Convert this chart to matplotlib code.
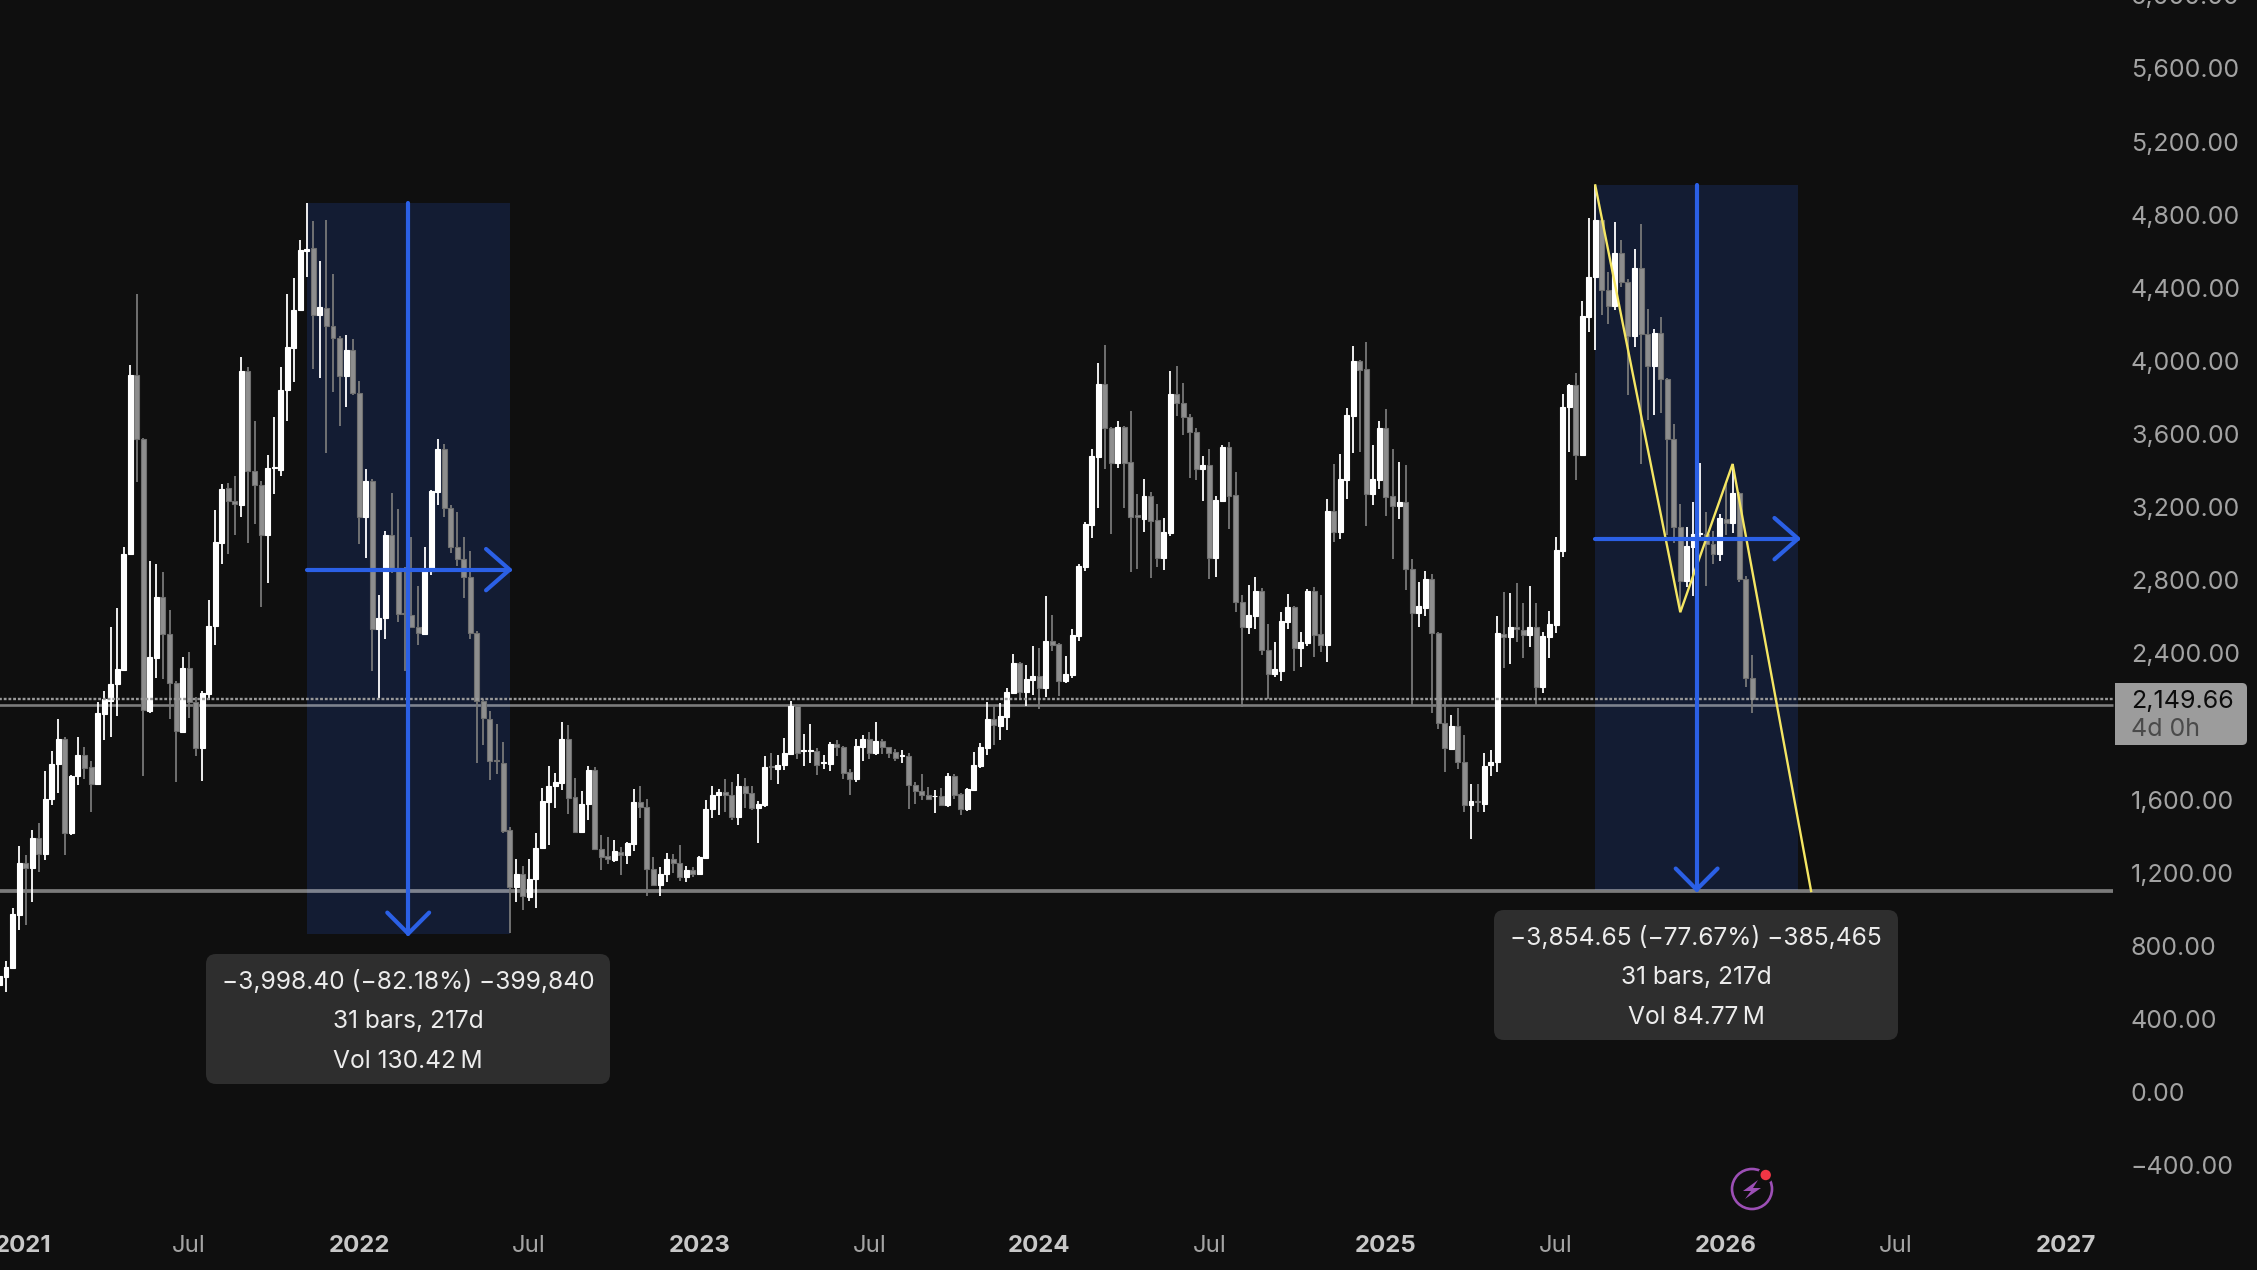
import numpy as np
import pandas as pd
import matplotlib
matplotlib.use("Agg")
import matplotlib.pyplot as plt
from matplotlib.patches import Rectangle, FancyBboxPatch, Circle, Polygon

plt.rcParams["font.family"] = ["Inter", "DejaVu Sans"]

# weekly bars
opens = [586,629,679,968,1253,1226,1390,1302,1606,1796,
    1934,1415,1729,1846,1776,1685,2069,2142,2230,2309,
    2945,3920,3575,2083,2376,2710,2505,2236,1972,2318,
    2133,1884,2177,2549,3003,3305,3232,3214,3944,3399,
    3320,3050,3414,3405,3841,4070,4278,4600,4615,4252,
    4287,4190,4123,3915,4058,3824,3144,3343,2535,2596,
    3047,2866,2622,2611,2543,2505,2851,3284,3519,3197,
    2980,2916,2816,2514,2142,2039,1816,1798,1434,1124,
    1193,1069,1164,1333,1589,1674,1693,1932,1612,1421,
    1574,1762,1328,1292,1270,1315,1297,1357,1587,1561,
    1219,1133,1191,1273,1255,1178,1215,1193,1282,1547,
    1625,1642,1625,1507,1674,1634,1556,1570,1784,1767,
    1789,1850,2112,1864,1864,1866,1800,1797,1904,1890,
    1749,1713,1888,1932,1855,1921,1886,1862,1839,1837,
    1678,1649,1625,1618,1618,1570,1729,1631,1549,1653,
    1784,1882,2039,2003,2054,2185,2346,2191,2255,2276,
    2211,2468,2452,2249,2282,2495,2873,3103,3475,3874,
    3635,3442,3639,3445,3155,3135,3261,3130,2924,3059,
    3819,3770,3695,3613,3409,3431,2924,3234,3529,3267,
    2681,2545,2605,2741,2419,2287,2306,2572,2654,2430,
    2457,2741,2506,2446,3179,3064,3349,3699,4000,3956,
    3272,3349,3633,3261,3206,3228,2864,2620,2650,2808,
    2512,2017,1879,2000,1804,1572,1595,1577,1791,1804,
    2507,2489,2545,2527,2502,2545,2218,2489,2557,2959,
    3750,3868,3487,4240,4461,4773,4386,4298,4592,4434,
    4135,4509,4145,3971,4152,3901,3574,3090,2796,2984,
    3052,3052,2997,2941,3135,3115,3278,2808,2263]
highs = [645,717,1007,1346,1297,1433,1472,1758,1867,2039,
    1945,1735,1943,1890,1811,2133,2192,2543,2646,2983,
    3979,4366,3580,2904,2889,2845,2637,2250,2382,2406,
    2162,2192,2690,3185,3328,3332,3370,4023,3964,3672,
    3343,3484,3692,3964,4366,4454,4662,4865,4764,4545,
    4770,4477,4134,4140,4120,3891,3408,3355,2719,3068,
    3276,3188,2874,3036,2769,2980,3296,3572,3548,3209,
    3173,3036,2960,2520,2148,2083,2016,1913,1448,1273,
    1237,1273,1416,1662,1784,1746,2025,2006,1718,1647,
    1784,1778,1406,1395,1379,1341,1370,1656,1674,1602,
    1288,1233,1306,1302,1352,1237,1233,1293,1598,1674,
    1658,1713,1696,1740,1720,1674,1592,1839,1855,1844,
    1937,2140,2118,1959,2014,1880,1844,1917,1926,1895,
    1767,1932,1953,1970,2025,1930,1890,1877,1871,1853,
    1696,1740,1669,1653,1663,1746,1740,1635,1663,1860,
    1910,2134,2112,2129,2209,2395,2351,2337,2441,2430,
    2714,2610,2455,2386,2534,2889,3119,3518,3989,4087,
    3640,3671,3642,3726,3272,3354,3283,3217,3141,3945,
    3972,3879,3710,3633,3480,3518,3261,3540,3557,3392,
    2720,2774,2818,2758,2561,2463,2627,2725,2660,2517,
    2752,2763,2720,3245,3436,3491,3743,4082,4005,4104,
    3540,3671,3737,3518,3447,3429,2914,2791,2851,2833,
    2515,2143,2062,2100,1954,1686,1686,1854,1871,2607,
    2733,2728,2783,2675,2771,2675,2519,2632,3034,3818,
    3876,3931,4328,4780,4960,4778,4486,4760,4660,4449,
    4612,4748,4283,4172,4240,3906,3655,3218,3090,3230,
    3441,3173,3072,3160,3328,3436,3280,2821,2389]
lows = [575,547,679,886,914,1040,1204,1269,1568,1635,
    1298,1409,1679,1714,1533,1680,1928,1943,2060,2303,
    2939,3340,1729,2074,2265,2259,2039,1699,1963,2045,
    1840,1702,2147,2447,2889,2945,3047,3144,3003,3106,
    2652,2784,3270,3370,3672,3885,4272,4457,3953,3906,
    3496,3827,3642,3748,3815,2998,2924,2303,2157,2476,
    2842,2573,2303,2540,2447,2500,2828,3209,3144,2948,
    2880,2705,2479,1802,1899,1708,1738,1420,868,1042,
    996,1045,1005,1330,1352,1556,1653,1521,1418,1418,
    1490,1326,1215,1248,1260,1188,1248,1321,1499,1075,
    1127,1075,1151,1200,1157,1149,1178,1191,1280,1499,
    1516,1532,1488,1461,1556,1543,1364,1561,1707,1685,
    1762,1844,1822,1786,1802,1736,1767,1757,1839,1715,
    1625,1696,1811,1822,1844,1850,1829,1811,1800,1549,
    1576,1598,1601,1527,1565,1560,1603,1516,1538,1650,
    1773,1844,1899,1926,1981,2180,2149,2114,2172,2096,
    2162,2413,2167,2236,2267,2468,2851,3031,3196,3409,
    3053,3414,3196,2845,2862,3064,2813,2873,2856,3042,
    3699,3595,3360,3349,3234,2807,2818,3228,3081,2627,
    2109,2506,2534,2391,2149,2271,2249,2534,2304,2326,
    2441,2380,2408,2353,3010,3026,3245,3496,3502,3097,
    3212,3299,3152,2917,3135,2745,2117,2545,2602,2072,
    1987,1753,1874,1766,1535,1384,1535,1535,1728,1753,
    2318,2344,2462,2376,2437,2110,2185,2374,2512,2929,
    3499,3348,3482,4160,4057,4253,4202,4278,4403,3813,
    4077,3436,3675,3705,3713,3047,3004,2625,2763,2715,
    3022,2771,2889,2904,3047,3060,2788,2218,2072]
closes = [635,684,974,1253,1226,1390,1302,1606,1796,1934,
    1415,1729,1846,1773,1685,2075,2148,2230,2315,2945,
    3920,3575,2089,2382,2710,2505,2236,1978,2318,2133,
    1884,2183,2549,3009,3299,3232,3217,3944,3399,3320,
    3050,3414,3420,3841,4076,4278,4609,4612,4252,4293,
    4190,4123,3915,4058,3824,3144,3343,2535,2596,3047,
    2866,2617,2617,2543,2514,2857,3290,3519,3197,2980,
    2916,2816,2514,2142,2045,1811,1811,1428,1124,1193,
    1073,1164,1333,1592,1674,1696,1932,1611,1421,1576,
    1762,1328,1288,1273,1319,1297,1361,1587,1561,1219,
    1133,1193,1273,1255,1178,1215,1193,1288,1547,1625,
    1642,1625,1507,1674,1634,1552,1576,1777,1777,1789,
    1855,2112,1857,1870,1870,1791,1804,1904,1886,1747,
    1713,1893,1932,1855,1921,1886,1855,1826,1842,1678,
    1649,1625,1605,1622,1570,1729,1625,1549,1658,1789,
    1888,2041,2006,2057,2187,2346,2191,2260,2276,2211,
    2468,2446,2249,2287,2501,2878,3108,3480,3874,3635,
    3442,3639,3442,3148,3148,3261,3126,2924,3064,3819,
    3770,3695,3613,3409,3431,2924,3239,3529,3261,2681,
    2545,2610,2741,2419,2287,2315,2577,2654,2430,2462,
    2741,2501,2446,3179,3064,3354,3704,4000,3950,3272,
    3354,3633,3256,3206,3228,2864,2620,2658,2808,2512,
    2017,1884,2000,1804,1572,1590,1585,1786,1804,2512,
    2489,2545,2532,2502,2545,2218,2494,2562,2964,3750,
    3868,3487,4245,4461,4773,4386,4298,4592,4434,4135,
    4509,4145,3971,4152,3901,3574,3090,2796,2989,3052,
    3060,2997,2941,3142,3115,3278,2808,2263,2150]

first_bar = pd.Timestamp("2020-12-14")

price_ticks = [6000,5600,5200,4800,4400,4000,3600,3200,2800,2400,1600,1200,800,400,0,-400]
time_ticks = ["2021-01-08","2021-07-05","2022-01-03","2022-07-04","2023-01-02","2023-07-03",
    "2024-01-01","2024-07-01","2025-01-06","2025-07-07","2026-01-05","2026-07-06","2027-01-04"]
time_labels = ["2021","Jul","2022","Jul","2023","Jul","2024","Jul","2025","Jul","2026","Jul","2027"]

# measure tools: first bar, last bar, top price, bottom price
measure_a = (47, 78, 4865, 867)
measure_b = (244, 275, 4963, 1108)
measure_a_text = ["\u22123,998.40 (\u221282.18%) \u2212399,840", "31 bars, 217d", "Vol 130.42\u2009M"]
measure_b_text = ["\u22123,854.65 (\u221277.67%) \u2212385,465", "31 bars, 217d", "Vol 84.77\u2009M"]

zigzag_x = [244, 257, 265, 277]
zigzag_y = [4960, 2625, 3436, 1100]

last_price = 2149.66
level_mid = 2120
level_low = 1100

BG = "#0f0f0f"
BLUE = "#2b60e6"

fig = plt.figure(figsize=(22.57, 12.70), dpi=100, facecolor=BG)
ax = fig.add_axes([0, 0, 1, 1], facecolor=BG)
ax.set_xlim(0.083, 345.18)
ax.set_ylim(-973, 5974)
ax.axis("off")

# overlay in image pixels for the labels boxes and the icon
ov = fig.add_axes([0, 0, 1, 1], facecolor="none")
ov.set_xlim(0, 2257)
ov.set_ylim(1270, 0)
ov.axis("off")

o = np.array(opens)
h = np.array(highs)
l = np.array(lows)
c = np.array(closes)
x = np.arange(len(o))
up = c >= o

for first, last, top, bot in [measure_a, measure_b]:
    ax.add_patch(Rectangle((first, bot), last - first, top - bot, color="#131c33", lw=0, zorder=1))

# levels
ax.hlines(level_mid, 0, 323.2, color="white", alpha=0.45, lw=1.9, zorder=2)
ax.hlines(level_low, 0, 323.2, color="white", alpha=0.45, lw=2.7, zorder=2)

ax.vlines(x[up], l[up], h[up], color="white", lw=1.3, zorder=3)
ax.vlines(x[~up], l[~up], h[~up], color="#787878", lw=1.3, zorder=3)
ax.bar(x[~up], (o - c)[~up], bottom=c[~up], width=0.76, color="#8e8e8e", edgecolor="#707070", lw=0.8, zorder=4)
ax.bar(x[up], (c - o)[up], bottom=o[up], width=0.76, color="white", edgecolor="white", lw=0.8, zorder=4)

ax.hlines(last_price, 0, 323.2, color="#9a9a9a", lw=1.7, linestyles=(0, (1.2, 0.8)), zorder=5)

ax.plot(zigzag_x, zigzag_y, color="#f5e663", lw=1.7, zorder=6, solid_joinstyle="miter")

# arrows of the measure tools
for first, last, top, bot in [measure_a, measure_b]:
    mid_x = (first + last) / 2
    mid_y = (top + bot) / 2 - 8
    ax.plot([mid_x, mid_x], [top, bot], color=BLUE, lw=3, solid_capstyle="round", zorder=7)
    ax.plot([mid_x - 3.2, mid_x, mid_x + 3.2], [bot + 115, bot, bot + 115], color=BLUE, lw=3,
            solid_capstyle="round", zorder=7)
    ax.plot([first, last], [mid_y, mid_y], color=BLUE, lw=3, solid_capstyle="round", zorder=7)
    ax.plot([last - 3.6, last, last - 3.6], [mid_y + 113, mid_y, mid_y - 113], color=BLUE, lw=3,
            solid_capstyle="round", zorder=7)

# price scale
for p in price_ticks:
    ax.text(325.9, p - 14, f"{p:,.2f}".replace("-", "\u2212"), color="#a3a3a3", fontsize=18,
            va="center", ha="left", zorder=8)

# time scale
for d, lab in zip(time_ticks, time_labels):
    pos = (pd.Timestamp(d) - first_bar).days / 7
    if lab == "Jul":
        ax.text(pos, -841, lab, color="#a3a3a3", fontsize=17.3, ha="center", va="center")
    else:
        ax.text(pos, -841, lab, color="#c8c8c8", fontsize=17.3, fontweight="bold", ha="center", va="center")

# last price tag
ov.add_patch(FancyBboxPatch((2115, 683), 132, 62, boxstyle="round,pad=0,rounding_size=5",
                            fc="#9c9c9c", ec="none", zorder=9))
ov.add_patch(Rectangle((2115, 683), 30, 62, fc="#9c9c9c", ec="none", zorder=9))
ov.text(2131, 701.5, f"{last_price:,.2f}", color="#0c0c0c", fontsize=18, va="center", ha="left", zorder=10)
ov.text(2131, 729, "4d 0h", color="#4a4a4a", fontsize=18, va="center", ha="left", zorder=10)

# measure tooltips
for (bx, by), lines in [((206, 954), measure_a_text), ((1494, 910), measure_b_text)]:
    ov.add_patch(FancyBboxPatch((bx, by), 404, 130, boxstyle="round,pad=0,rounding_size=10",
                                fc="#2e2e2e", ec="none", zorder=9))
    for k, line in enumerate(lines):
        ov.text(bx + 202, by + 28 + 40 * k, line, color="#ececec", fontsize=17.7,
                ha="center", va="center", zorder=10)

# lightning icon
PURPLE = "#9c4fb5"
ov.add_patch(Circle((1752, 1189), 20, fc="none", ec=PURPLE, lw=1.9, zorder=9))
ov.add_patch(Polygon([(1758, 1180), (1743, 1191), (1751, 1191), (1745, 1199), (1761, 1188), (1753, 1188)],
                     fc=PURPLE, ec="none", zorder=9))
ov.add_patch(Circle((1765.7, 1175), 8, fc=BG, ec="none", zorder=10))
ov.add_patch(Circle((1765.7, 1175), 5.2, fc="#f23645", ec="none", zorder=11))

fig.savefig("out.png", dpi=100, facecolor=BG)
